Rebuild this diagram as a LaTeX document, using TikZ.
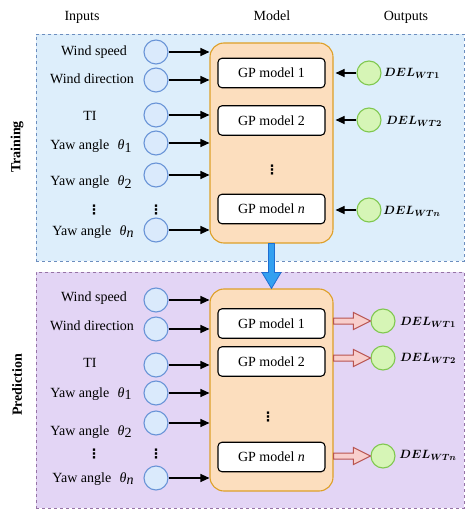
\documentclass[tikz,border=0pt]{standalone}
\usepackage{fontspec}
\setmainfont{Liberation Serif}
\newfontfamily\symfont{DejaVu Sans}
\usetikzlibrary{arrows.meta,calc}
\definecolor{trainfill}{RGB}{221,238,251}
\definecolor{trainline}{RGB}{108,142,191}
\definecolor{predfill}{RGB}{227,213,245}
\definecolor{predline}{RGB}{150,115,166}
\definecolor{modelfill}{RGB}{252,222,190}
\definecolor{modelline}{RGB}{222,160,40}
\definecolor{infill}{RGB}{218,234,252}
\definecolor{inline}{RGB}{105,148,215}
\definecolor{outfill}{RGB}{214,245,182}
\definecolor{outline}{RGB}{128,200,80}
\definecolor{hfill}{RGB}{248,206,204}
\definecolor{hline}{RGB}{184,84,80}
\definecolor{bfill}{RGB}{51,160,240}
\definecolor{bline}{RGB}{30,110,210}
\newcommand{\harrow}[2]{\draw[harrowsty] let \p1=(#1), \p2=(#2) in
  (\x1,\y1+3) -- (\x2-17,\y1+3) -- (\x2-17,\y1+8.5) -- (\x2,\y1) -- (\x2-17,\y1-8.5) -- (\x2-17,\y1-3) -- (\x1,\y1-3) -- cycle;}
\newcommand{\varrow}[2]{\draw[varrowsty] let \p1=(#1), \p2=(#2) in
  (\x1+3,\y1) -- (\x1+3,\y2+16) -- (\x1+9.5,\y2+16) -- (\x1,\y2) -- (\x1-9.5,\y2+16) -- (\x1-3,\y2+16) -- (\x1-3,\y1) -- cycle;}
\begin{document}
\begin{tikzpicture}[x=1pt,y=-1pt,
  every node/.style={font=\fontsize{14}{16}\selectfont, inner sep=0pt},
  panel/.style={rectangle, dashed, dash pattern=on 3pt off 3pt, line width=0.9pt, anchor=north west},
  modelbox/.style={rectangle, rounded corners=14pt, draw=modelline, fill=modelfill, line width=1.1pt, minimum width=123pt},
  gpbox/.style={rectangle, rounded corners=4pt, draw=black, fill=white, line width=1.1pt, minimum width=107pt, minimum height=29.5pt},
  incirc/.style={circle, draw=inline, fill=infill, line width=1.1pt, minimum size=24pt},
  outcirc/.style={circle, draw=outline, fill=outfill, line width=1.1pt, minimum size=24pt},
  lbl/.style={anchor=mid},
  dellbl/.style={font=\fontsize{12.5}{14}\selectfont\boldmath},
  dotsn/.style={font=\fontsize{13}{14}\selectfont\symfont\bfseries},
  arr/.style={-{Triangle[length=9pt,width=8pt]}, line width=1.1pt, black},
  harrowsty/.style={draw=hline, fill=hfill, line width=1pt, line join=miter},
  varrowsty/.style={draw=bline, fill=bfill, line width=0.8pt, line join=miter}]
\useasboundingbox (0,0) rectangle (474,518);
% headers
\node[anchor=base] (hin) at (82,21) {Inputs};
\node[anchor=base] (hmo) at (272,21) {Model};
\node[anchor=base] (hou) at (406,21) {Outputs};
% panels
\node[panel, draw=trainline, fill=trainfill, minimum width=428pt, minimum height=227pt] (tr) at (36,34) {};
\node[panel, draw=predline, fill=predfill, minimum width=428pt, minimum height=236pt] (pr) at (36,272) {};
\node[rotate=90, font=\fontsize{14}{16}\selectfont\bfseries] (ltr) at (17,147) {Training};
\node[rotate=90, font=\fontsize{14}{16}\selectfont\bfseries] (lpr) at (17,385) {Prediction};
% model boxes
\node[modelbox, minimum height=200pt] (mt) at (271.5,143) {};
\node[modelbox, minimum height=202pt] (mp) at (271.5,390) {};
% training GP
\node[gpbox] (gt1) at (271.5,73) {GP model 1};
\node[gpbox] (gt2) at (271.5,120.5) {GP model 2};
\node[dotsn] (dt) at (272,170) {⋮};
\node[gpbox] (gtn) at (271.5,209) {GP model \textit{n}};
% prediction GP
\node[gpbox] (gp1) at (271.5,323.5) {GP model 1};
\node[gpbox] (gp2) at (271.5,361.5) {GP model 2};
\node[dotsn] (dp) at (268,417) {⋮};
\node[gpbox] (gpn) at (271.5,457) {GP model \textit{n}};
% training inputs
\node[lbl] (ta1) at (94,53) {Wind speed};
\node[lbl] (ta2) at (92,81) {Wind direction};
\node[lbl] (ta3) at (90,118) {TI};
\node[anchor=base] (ta4) at (91,150) {Yaw angle\hspace{0.6em}\textit{θ}\raisebox{-0.45ex}{1}};
\node[anchor=base] (ta5) at (91,186) {Yaw angle\hspace{0.6em}\textit{θ}\raisebox{-0.45ex}{2}};
\node[dotsn] (ta6) at (94,210) {⋮};
\node[anchor=base] (ta7) at (93,235) {Yaw angle\hspace{0.6em}\textit{θ}\raisebox{-0.45ex}{\textit{n}}};
\node[incirc] (ti1) at (156,52) {};
\node[incirc] (ti2) at (156,80) {};
\node[incirc] (ti3) at (156,115) {};
\node[incirc] (ti4) at (156,143) {};
\node[incirc] (ti5) at (156,175) {};
\node[dotsn] (tdt) at (156,210) {⋮};
\node[incirc] (ti6) at (156,230) {};
\foreach \i in {1,...,6} \draw[arr] (ti\i) -- (ti\i -| mt.west);
% training outputs
\node[outcirc] (to1) at (369,73) {};
\node[outcirc] (to2) at (369,120) {};
\node[outcirc] (to3) at (369,210) {};
\node[dellbl] (tl1) at (412,73) {$DEL_{WT1}$};
\node[dellbl] (tl2) at (414,121) {$DEL_{WT2}$};
\node[dellbl] (tl3) at (412,211) {$DEL_{WTn}$};
\foreach \i in {1,2,3} \draw[arr] (to\i) -- ($(to\i -| mt.east)+(2,0)$);
% blue arrow
\coordinate (bs) at (mt.south);
\coordinate (be) at (mp.north);
\varrow{bs}{be}
% prediction inputs
\node[lbl] (pa1) at (94,299) {Wind speed};
\node[lbl] (pa2) at (92,328) {Wind direction};
\node[lbl] (pa3) at (90,365) {TI};
\node[anchor=base] (pa4) at (91,397) {Yaw angle\hspace{0.6em}\textit{θ}\raisebox{-0.45ex}{1}};
\node[anchor=base] (pa5) at (91,435) {Yaw angle\hspace{0.6em}\textit{θ}\raisebox{-0.45ex}{2}};
\node[dotsn] (pa6) at (94,454) {⋮};
\node[anchor=base] (pa7) at (93,482) {Yaw angle\hspace{0.6em}\textit{θ}\raisebox{-0.45ex}{\textit{n}}};
\node[incirc] (pi1) at (156,300) {};
\node[incirc] (pi2) at (156,329) {};
\node[incirc] (pi3) at (156,365) {};
\node[incirc] (pi4) at (156,393) {};
\node[incirc] (pi5) at (156,423) {};
\node[dotsn] (pdt) at (156,454) {⋮};
\node[incirc] (pi6) at (156,478) {};
\foreach \i in {1,...,6} \draw[arr] (pi\i) -- (pi\i -| mp.west);
% prediction outputs
\node[outcirc] (po1) at (383,321) {};
\node[outcirc] (po2) at (383,358) {};
\node[outcirc] (po3) at (383,456) {};
\node[dellbl] (pl1) at (428,322) {$DEL_{WT1}$};
\node[dellbl] (pl2) at (428,358) {$DEL_{WT2}$};
\node[dellbl] (pl3) at (428,455) {$DEL_{WTn}$};
\coordinate (h1s) at (po1 -| mp.east);
\coordinate (h2s) at (po2 -| mp.east);
\coordinate (h3s) at (po3 -| mp.east);
\harrow{h1s}{po1.west}
\harrow{h2s}{po2.west}
\harrow{h3s}{po3.west}
\end{tikzpicture}
\end{document}
